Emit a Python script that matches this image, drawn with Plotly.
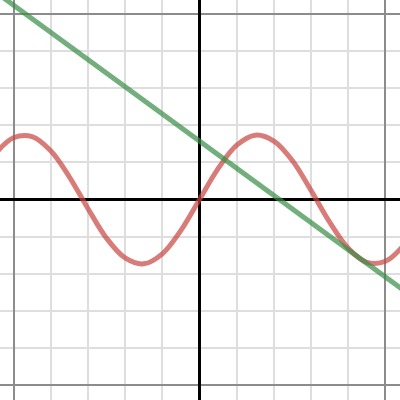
import plotly.graph_objects as go

# red curve, values (graph units)
wave_x = [-5.5, -5.0, -4.5, -4.0, -3.5, -3.0, -2.5, -2.0, -1.5, -1.0, -0.5, 0.0,
          0.5, 1.0, 1.5, 2.0, 2.5, 3.0, 3.5, 4.0, 4.5, 5.0, 5.5]
wave_y = [1.22, 1.66, 1.69, 1.31, 0.61, -0.24, -1.04, -1.57, -1.73, -1.46, -0.83, 0.0,
          0.83, 1.46, 1.73, 1.57, 1.04, 0.24, -0.61, -1.31, -1.69, -1.66, -1.22]

# green line end points
line_x = [-5.5, 5.5]
line_y = [5.59, -2.45]

fig = go.Figure()
fig.add_trace(go.Scatter(
    x=wave_x, y=wave_y, mode="lines",
    line=dict(color="rgba(199,68,64,0.7)", width=5, shape="spline", smoothing=1.0),
    hoverinfo="skip",
))
fig.add_trace(go.Scatter(
    x=line_x, y=line_y, mode="lines",
    line=dict(color="rgba(56,140,70,0.7)", width=5),
    hoverinfo="skip",
))

axis_common = dict(
    showgrid=True, gridcolor="#8c8c8c", gridwidth=2, dtick=5, tick0=0,
    minor=dict(dtick=1, tick0=0, showgrid=True, gridcolor="#dedede", gridwidth=1.5),
    zeroline=True, zerolinecolor="#000000", zerolinewidth=2.5,
    showticklabels=False, ticks="", showline=False, fixedrange=True,
)
fig.update_xaxes(range=[-5.363, 5.390], **axis_common)
fig.update_yaxes(range=[-5.390, 5.363], **axis_common)
fig.update_layout(
    width=400, height=400,
    margin=dict(l=0, r=0, t=0, b=0),
    paper_bgcolor="white", plot_bgcolor="white",
    showlegend=False,
)
fig.write_html("out.html", config={"displayModeBar": False},
               post_script="document.body.style.margin='0';")
